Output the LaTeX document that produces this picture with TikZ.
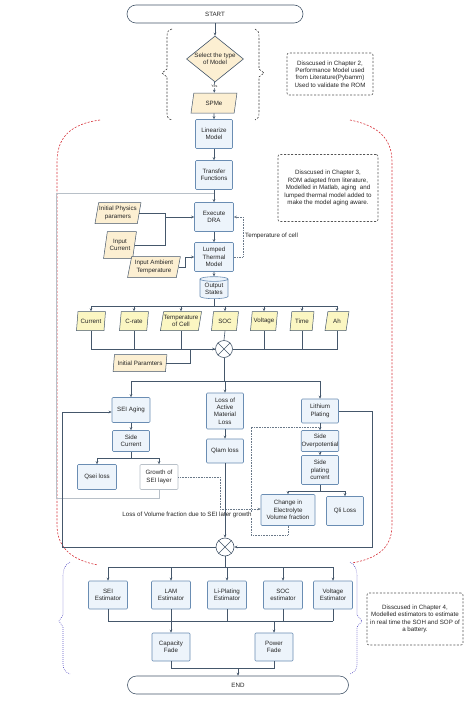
\documentclass[tikz,border=0pt]{standalone}
\usepackage{fontspec}
\setmainfont{Liberation Sans}
\usetikzlibrary{shapes.geometric,shapes.misc,arrows.meta}
\definecolor{bluefill}{HTML}{EDF4FB}
\definecolor{blueedge}{HTML}{6A8DB3}
\definecolor{beige}{HTML}{FCEFD2}
\definecolor{yel}{HTML}{FBF6C2}
\definecolor{lin}{HTML}{45576B}
\definecolor{reddash}{HTML}{D8343C}
\definecolor{bluedash}{HTML}{6058C8}
\definecolor{gryline}{HTML}{B8C0C8}
\definecolor{notecol}{HTML}{555555}
\newcommand\fsz{\fontsize{6.2}{7.4}\selectfont}
\begin{document}
\begin{tikzpicture}[x=1pt,y=-1pt,
  every node/.style={font=\fsz, text=black!85},
  proc/.style={draw=blueedge, fill=bluefill, line width=0.6pt, rounded corners=1pt, align=center, inner sep=0.3pt, minimum width=37, minimum height=25},
  gproc/.style={proc, draw=gryline, fill=white},
  term/.style={draw=lin, fill=white, line width=0.6pt, rounded corners=9pt, minimum height=18, inner sep=0pt},
  para/.style={trapezium, trapezium left angle=75, trapezium right angle=105, trapezium stretches=true, draw=lin, line width=0.5pt, align=center, inner sep=0pt},
  bpara/.style={para, fill=beige},
  ypara/.style={para, fill=yel, minimum height=19},
  sumj/.style={circle, draw=lin, fill=white, line width=0.6pt, minimum size=17, inner sep=0pt},
  note/.style={draw=notecol, dashed, dash pattern=on 2pt off 1.6pt, line width=0.6pt, rounded corners=2pt, align=center, inner sep=1pt},
  ln/.style={draw=lin, line width=0.6pt},
  arr/.style={ln, -{Stealth[length=3pt,width=2.6pt]}},
  dotln/.style={draw=lin!80, line width=0.6pt, dash pattern=on 0.8pt off 0.8pt},
  dotarr/.style={dotln, -{Stealth[length=3pt,width=2.6pt]}},
  gry/.style={draw=gryline, line width=0.6pt}
]
\useasboundingbox (0,0) rectangle (474,701);
\fill[white] (0,0) rectangle (474,701);

% brackets
\draw[draw=black!75, line width=0.6pt, dash pattern=on 2pt off 1.5pt]
  (172,29) .. controls (168,30) and (167,32) .. (167,37) -- (167,69) -- (162,73) -- (167,77) -- (167,113) .. controls (167,117) and (168,119) .. (172,120);
\draw[draw=black!75, line width=0.6pt, dash pattern=on 2pt off 1.5pt]
  (255,29) .. controls (258,30) and (259,32) .. (259,37) -- (259,69) -- (264,73) -- (259,77) -- (259,113) .. controls (259,117) and (258,119) .. (255,120);
\draw[draw=reddash, line width=0.6pt, dash pattern=on 2pt off 1.5pt]
  (100,120) .. controls (70,124) and (57,138) .. (57,162) -- (57,525) .. controls (57,546) and (70,560) .. (98,565);
\draw[draw=reddash, line width=0.6pt, dash pattern=on 2pt off 1.5pt]
  (350,120) .. controls (380,126) and (392,140) .. (392,162) -- (392,525) .. controls (392,546) and (380,558) .. (352,563);
\draw[draw=bluedash, line width=0.6pt, dash pattern=on 0.8pt off 1.2pt]
  (70,562) .. controls (65,565) and (63,569) .. (63,576) -- (63,615) -- (59,621) -- (63,627) -- (63,664) .. controls (63,669) and (65,672) .. (70,674);
\draw[draw=bluedash, line width=0.6pt, dash pattern=on 0.8pt off 1.2pt]
  (350,562) .. controls (355,565) and (357,569) .. (357,576) -- (357,615) -- (362,621) -- (357,627) -- (357,664) .. controls (357,669) and (355,672) .. (350,674);

% notes
\node[note, minimum width=86, minimum height=42] (n2) at (330,74)
  {Disscused in Chapter 2,\\Performance Model used\\from Literature(Pybamm)\\Used to validate the ROM};
\node[note, minimum width=100, minimum height=67] (n3) at (328,188)
  {Disscused in Chapter 3,\\ROM adapted from literature,\\Modelled in Matlab, aging\ \ and\\lumped thermal model added to\\make the model aging aware.};
\node[note, minimum width=96, minimum height=52] (n4) at (415,619)
  {Disscused in Chapter 4,\\Modelled estimators to estimate\\in real time the SOH and SOP of\\a battery.};

% main column
\node[term, minimum width=176] (start) at (215,14) {START};
\node[diamond, draw=lin, fill=beige, line width=0.6pt, minimum width=57, minimum height=46, inner sep=0pt] (sel) at (215,59) {};
\node[align=center] at (sel) {Select the type\\of Model};
\node[bpara, minimum width=46, minimum height=20] (spme) at (214,103) {SPMe};
\node[proc, minimum height=29] (lin) at (214,134) {Linearize\\Model};
\node[proc, minimum height=29] (tf) at (214,175) {Transfer\\Functions};
\node[proc, minimum width=39, minimum height=29] (dra) at (214,217) {Execute\\DRA};
\node[proc, minimum width=39, minimum height=29] (ltm) at (214,257) {Lumped\\Thermal\\Model};
\node[cylinder, shape border rotate=90, aspect=0.25, draw=blueedge, fill=bluefill, line width=0.6pt, minimum width=28, minimum height=22, inner sep=0pt, align=center] (os) at (214,289) {Output\\States};

\node[bpara, minimum width=46, minimum height=21] (ip) at (118,213) {Initial Physics\\paramers};
\node[bpara, minimum width=33, minimum height=27] (ic) at (120,245) {Input\\Current};
\node[bpara, minimum width=53, minimum height=21] (ia) at (154,267) {Input Ambient\\Temperature};

\draw[arr] (start) -- (sel);
\draw[arr] (sel) -- node[pos=0.45, font=\fontsize{3.6}{4}\selectfont, fill=white, inner sep=0.3pt] {Yes} (spme);
\draw[arr] (spme) -- (lin);
\draw[arr] (lin) -- (tf);
\draw[arr] (tf) -- (dra);
\draw[arr] (dra) -- (ltm);
\draw[arr] (ltm) -- (os);

\coordinate (j1) at (165,217);
\draw[ln] (ip.east) -| (j1);
\draw[ln] (ic.east) -| (j1);
\draw[arr] (j1) -- (dra.west);
\coordinate (j2) at (185,257);
\draw[arr] (ia.east) -| (j2) -- (ltm.west);
\draw[dotarr] (ltm.east) -- ++(9,0) |- (dra.east);
\node[anchor=west, inner sep=0pt] (tcl) at (245,236) {Temperature of cell};

% grey feedback container line
\node[gproc, minimum width=38] (gsei) at (159,477) {Growth of\\SEI layer};
\draw[gry] (gsei.south) -- (159,498) -- (56,498) -- (56,193) -- (214,193);

% states
\coordinate (bus) at (0,306);
\node[ypara, minimum width=29] (cur) at (91,321) {Current};
\node[ypara, minimum width=29] (cr) at (134,321) {C-rate};
\node[ypara, minimum width=36] (tc) at (181,321) {Temperature\\of Cell};
\node[ypara, minimum width=27] (soc) at (225,321) {SOC};
\node[ypara, minimum width=27] (vol) at (264,321) {Voltage};
\node[ypara, minimum width=24] (tim) at (302,321) {Time};
\node[ypara, minimum width=24] (ah) at (337,321) {Ah};
\draw[ln] (os.south) -- (os.south |- bus);
\draw[ln] (cur.north |- bus) -- (ah.north |- bus);
\foreach \n in {cur,cr,tc,soc,vol,tim,ah} {\draw[arr] (\n.north |- bus) -- (\n.north);}

\node[sumj] (s1) at (224,349) {};
\draw[ln] (s1.north west) -- (s1.south east) (s1.north east) -- (s1.south west);
\draw[ln] (cur.south) |- (s1.west);
\draw[ln] (cr.south) -- (cr.south |- s1);
\draw[ln] (tc.south) -- (tc.south |- s1);
\draw[ln] (soc.south) -- (s1.north);
\draw[ln] (ah.south) |- (s1.east);
\draw[ln] (vol.south) -- (vol.south |- s1);
\draw[ln] (tim.south) -- (tim.south |- s1);
\node[bpara, minimum width=54, minimum height=17] (ipar) at (140,363) {Initial Paramters};
\draw[arr] (ipar.east) -| (190,349) -- (s1.west);

% aging
\coordinate (bus2) at (0,381);
\node[proc, minimum width=38] (sei) at (131,410) {SEI Aging};
\node[proc, minimum height=36] (lam) at (225,411) {Loss of\\Active\\Material\\Loss};
\node[proc, minimum height=24] (lip) at (320,411) {Lithium\\Plating};
\draw[ln] (s1.south) -- (s1.south |- bus2);
\draw[ln] (sei.north |- bus2) -- (lip.north |- bus2);
\foreach \n in {sei,lam,lip} {\draw[arr] (\n.north |- bus2) -- (\n.north);}

\node[proc, minimum height=21] (sc) at (131,441) {Side\\Current};
\node[proc, minimum width=39] (qsei) at (97,477) {Qsei loss};
\draw[arr] (sei) -- (sc);
\draw[ln] (sc.south) -- ++(0,6) coordinate (sp1);
\draw[arr] (sp1) -| (qsei.north);
\draw[arr] (sp1) -| (gsei.north);

\node[proc, minimum height=24] (qlam) at (225,451) {Qlam loss};
\draw[arr] (lam) -- (qlam);

\node[proc, minimum height=21] (sop) at (320,441) {Side\\Overpotential};
\node[proc, minimum height=29] (spc) at (320,470) {Side\\plating\\current};
\node[proc, minimum width=54, minimum height=31] (cev) at (288,510) {Change in\\Electrolyte\\Volume fraction};
\node[proc, minimum height=29] (qli) at (345,511) {Qli Loss};
\draw[arr] (lip) -- (sop);
\draw[arr] (sop) -- (spc);
\draw[ln] (spc.south) -- ++(0,6) coordinate (sp2);
\draw[arr] (sp2) -| (cev.north);
\draw[arr] (sp2) -| (qli.north);

\draw[dotln] (cev.south) -- ++(0,9) -| (251,427) -- (319,427);
\node[fill=white, inner sep=0.4pt] (lvf) at (187,515) {Loss of Volume fraction due to SEI later growth};
\draw[dotarr] (gsei.east) -| (220,509) -- (cev.west |- 0,509);

\node[sumj, minimum size=18] (s2) at (225,547) {};
\draw[ln] (s2.north west) -- (s2.south east) (s2.north east) -- (s2.south west);
\draw[arr] (qlam.south) -- (s2.north);
\draw[arr] (lip.east) -| (372,547) -- (s2.east);
\draw[arr] (s2.west) -| (62,412) -- (sei.west |- 0,412);

% estimators
\coordinate (bus3) at (0,567);
\node[proc, minimum width=39, minimum height=28] (seie) at (108,595) {SEI\\Estimator};
\node[proc, minimum width=39, minimum height=28] (lame) at (171,595) {LAM\\Estimator};
\node[proc, minimum width=39, minimum height=28] (lipe) at (227,595) {Li-Plating\\Estimator};
\node[proc, minimum width=39, minimum height=28] (soce) at (283,595) {SOC\\estimator};
\node[proc, minimum width=39, minimum height=28] (vole) at (333,595) {Voltage\\Estimator};
\draw[ln] (s2.south) -- (s2.south |- bus3);
\draw[ln] (seie.north |- bus3) -- (vole.north |- bus3);
\foreach \n in {seie,lame,lipe,soce,vole} {\draw[arr] (\n.north |- bus3) -- (\n.north);}

\coordinate (bus4) at (0,621);
\foreach \n in {seie,lame,lipe,soce,vole} {\draw[ln] (\n.south) -- (\n.south |- bus4);}
\draw[ln] (seie.south |- bus4) -- (vole.south |- bus4);
\node[proc, minimum width=38, minimum height=28] (cap) at (171,647) {Capacity\\Fade};
\node[proc, minimum width=38, minimum height=28] (pf) at (274,647) {Power\\Fade};
\draw[arr] (cap.north |- bus4) -- (cap.north);
\draw[arr] (pf.north |- bus4) -- (pf.north);

\node[term, minimum width=221] (endn) at (238,685) {END};
\coordinate (j3) at (238,668);
\draw[ln] (cap.south) |- (j3);
\draw[ln] (pf.south) |- (j3);
\draw[arr] (j3) -- (endn.north);
\end{tikzpicture}
\end{document}
